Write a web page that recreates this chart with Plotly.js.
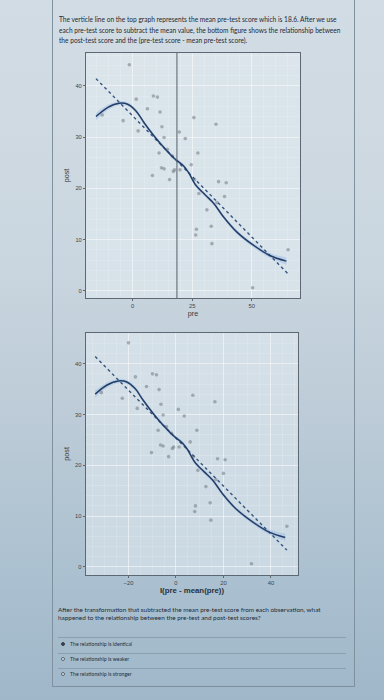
<!DOCTYPE html>
<html>
<head>
<meta charset="utf-8">
<script src="https://cdn.plot.ly/plotly-3.0.1.min.js"></script>
<style>
  html, body { margin:0; padding:0; }
  body { width:384px; height:700px; position:relative; overflow:hidden;
         background: linear-gradient(180deg, #d2dce4 0%, #cbd7e0 35%, #bccbd7 60%, #a9bfcf 85%, #9fb7c9 100%);
         font-family: Lato, "Open Sans", sans-serif; }
  #card { position:absolute; left:52px; top:-2px; width:303px; height:689px;
          border:1px solid #7f909e; box-sizing:border-box; }
  #plot { position:absolute; left:0; top:0; width:384px; height:700px; }
  .txt { position:absolute; white-space:pre; color:#1f2a35; }
  #head { left:59px; top:14px; font-size:6.6px; line-height:10.7px; }
  #foot { left:58px; top:606px; font-size:6.4px; line-height:7.7px; }
  .opt { position:absolute; left:70px; font-size:5.2px; color:#25303b; white-space:pre; }
  .radio { position:absolute; left:61px; width:4px; height:4px; border-radius:50%;
           border:0.6px solid #56636f; box-sizing:border-box; background:#e6edf2; }
  .radio.on { background:#39434d; border-color:#39434d; }
  .sep { position:absolute; left:58px; width:288px; height:0; border-top:0.8px solid #8aa0b0; }
</style>
</head>
<body>
<div id="card"></div>
<div class="txt" id="head">The verticle line on the top graph represents the mean pre-test score which is 18.6. After we use
each pre-test score to subtract the mean value, the bottom figure shows the relationship between
the post-test score and the (pre-test score - mean pre-test score).</div>
<div id="plot"></div>
<div class="txt" id="foot">After the transformation that subtracted the mean pre-test score from each observation, what
happened to the relationship between the pre-test and post-test scores?</div>
<div class="sep" style="top:636.5px"></div>
<div class="radio on" style="top:642px"></div><div class="opt" style="top:641px">The relationship is identical</div>
<div class="sep" style="top:652.5px"></div>
<div class="radio" style="top:657.3px"></div><div class="opt" style="top:656.3px">The relationship is weaker</div>
<div class="sep" style="top:667.5px"></div>
<div class="radio" style="top:672.3px"></div><div class="opt" style="top:671.3px">The relationship is stronger</div>
<script>
// ---- data ----
const meanPre = 18.6;
const preCentered = [-20, -31.4, -22.6, -17.1, -16.3, -12.4, -9.9, -8.2, -7.1, -6.3,
  -5.4, -7.5, -10.3, -6.5, -5.4, -3.1, -1.5, -1.0, -1.9, -4.0,
  1.0, 3.5, 1.3, 7.1, 8.8, 6.0, 7.4, 9.2, 8.2, 7.9,
  12.6, 14.4, 14.7, 17.5, 20.7, 20.0, 16.8, 31.8, 46.7, 16.4];
const post = [44.1, 34.3, 33.2, 37.4, 31.2, 35.5, 38.0, 37.8, 34.9, 32.0,
  29.9, 26.9, 22.5, 24.0, 23.8, 21.7, 23.3, 23.6, 26.3, 27.6,
  31.0, 29.7, 23.6, 33.8, 26.9, 24.6, 21.7, 19.0, 12.0, 10.9,
  15.8, 12.6, 9.2, 21.3, 21.1, 18.4, 17.2, 0.6, 8.0, 32.5];
// loess smooth (centered x) and its band
const loessX = [-34, -29, -24.2, -20.7, -17.2, -13.8, -9.6, -5.4, -1.3, 2.9, 5.0, 7.8, 11.9, 15.4, 19.6, 25.1, 32.1, 39.0, 46.0];
const loessY = [34.0, 35.8, 36.6, 36.4, 35.1, 32.8, 30.2, 27.9, 25.9, 24.3, 23.0, 20.7, 18.7, 17.1, 14.4, 11.5, 8.9, 6.9, 5.8];
const bandUpper = [34.7, 36.3, 37.0, 36.8, 35.5, 33.2, 30.6, 28.3, 26.3, 24.7, 23.4, 21.1, 19.1, 17.5, 14.8, 11.9, 9.3, 7.4, 6.5];
const bandLower = [33.3, 35.3, 36.2, 36.0, 34.7, 32.4, 29.8, 27.5, 25.5, 23.9, 22.6, 20.3, 18.3, 16.7, 14.0, 11.1, 8.5, 6.4, 5.1];
// linear fit (centered x)
const fitX = [-34, 46.7];
const fitY = [41.4, 3.3];
const xTicksTop = [0, 25, 50];
const xTicksBottom = [-20, 0, 20, 40];
const yTicks = [0, 10, 20, 30, 40];

const pre = preCentered.map(v => v + meanPre);
const loessXPre = loessX.map(v => v + meanPre);
const fitXPre = fitX.map(v => v + meanPre);

const ptColor = 'rgba(115,122,130,0.55)';
const lineColor = '#243d66';
const bandColor = 'rgba(110,160,225,0.28)';

function panelTraces(xs, lx, fx, xa, ya) {
  return [
    {x: lx, y: bandLower, xaxis: xa, yaxis: ya, mode: 'lines', line: {width: 0, shape: 'spline'}, hoverinfo: 'skip', showlegend: false},
    {x: lx, y: bandUpper, xaxis: xa, yaxis: ya, mode: 'lines', fill: 'tonexty', fillcolor: bandColor, line: {width: 0, shape: 'spline'}, hoverinfo: 'skip', showlegend: false},
    {x: xs, y: post, xaxis: xa, yaxis: ya, mode: 'markers', marker: {size: 3.6, color: ptColor}, showlegend: false},
    {x: fx, y: fitY, xaxis: xa, yaxis: ya, mode: 'lines', line: {color: '#35557f', width: 1.4, dash: '3px,3px'}, showlegend: false},
    {x: lx, y: loessY, xaxis: xa, yaxis: ya, mode: 'lines', line: {color: lineColor, width: 1.5, shape: 'spline'}, showlegend: false}
  ];
}

const traces = [].concat(
  panelTraces(pre, loessXPre, fitXPre, 'x', 'y'),
  panelTraces(preCentered, loessX, fitX, 'x2', 'y2')
);

const axCommon = {
  showline: true, mirror: true, linecolor: '#5d6874', linewidth: 1,
  showgrid: true, gridcolor: 'rgba(255,255,255,0.55)', gridwidth: 0.8,
  minor: {showgrid: true, gridcolor: 'rgba(255,255,255,0.3)', gridwidth: 0.5},
  zeroline: false, ticks: 'outside', ticklen: 2, tickcolor: '#5d6874',
  tickfont: {family: 'Liberation Sans, Arial, sans-serif', size: 5.8, color: '#3d454e'},
  fixedrange: true
};
const W = 384, H = 700;
const layout = {
  width: W, height: H,
  margin: {l: 0, r: 0, t: 0, b: 0},
  paper_bgcolor: 'rgba(0,0,0,0)',
  plot_bgcolor: 'rgba(228,236,242,0.55)',
  showlegend: false,
  xaxis: Object.assign({}, axCommon, {
    domain: [86/W, 300/W], range: [-19.6, 70.3], tickvals: xTicksTop, anchor: 'y',
    title: {text: 'pre', font: {family: 'Liberation Sans, Arial, sans-serif', size: 7.2, color: '#333b44'}, standoff: 2}
  }),
  yaxis: Object.assign({}, axCommon, {
    domain: [1 - 298/H, 1 - 53/H], range: [-1.4, 46.4], tickvals: yTicks, anchor: 'x',
    title: {text: 'post', font: {family: 'Liberation Sans, Arial, sans-serif', size: 7.2, color: '#333b44'}, standoff: 4}
  }),
  xaxis2: Object.assign({}, axCommon, {
    domain: [85.7/W, 298.3/W], range: [-38.0, 51.5], tickvals: xTicksBottom, anchor: 'y2',
    title: {text: '<b>I(pre - mean(pre))</b>', font: {family: 'Liberation Sans, Arial, sans-serif', size: 7.8, color: '#26303a'}, standoff: 2}
  }),
  yaxis2: Object.assign({}, axCommon, {
    domain: [1 - 575/H, 1 - 332.7/H], range: [-1.6, 46.1], tickvals: yTicks, anchor: 'x2',
    title: {text: 'post', font: {family: 'Liberation Sans, Arial, sans-serif', size: 7.2, color: '#333b44'}, standoff: 4}
  }),
  shapes: [
    {type: 'line', xref: 'x', yref: 'y domain', x0: meanPre, x1: meanPre, y0: 0, y1: 1,
     line: {color: '#56606b', width: 1}}
  ]
};
Plotly.newPlot('plot', traces, layout, {displayModeBar: false, staticPlot: true});
</script>
</body>
</html>
